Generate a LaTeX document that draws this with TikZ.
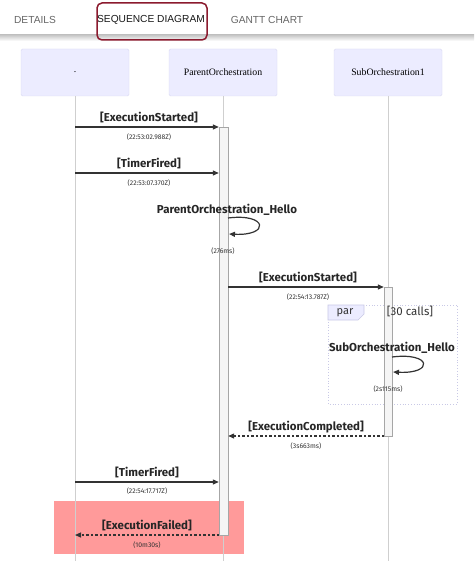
\documentclass[tikz,border=0pt]{standalone}
\usepackage{fontspec}
\setmainfont{Liberation Serif}
\newfontfamily\msgfont{Fira Sans}
\newfontfamily\tabfont{Liberation Sans}
\usetikzlibrary{positioning,arrows.meta}

\definecolor{actorfill}{HTML}{ECECFF}
\definecolor{actorline}{HTML}{DADAF2}
\definecolor{lifegray}{HTML}{CFCFCF}
\definecolor{msgline}{HTML}{333333}
\definecolor{tabred}{HTML}{8B1A2E}
\definecolor{failred}{HTML}{FF9A9A}
\definecolor{parline}{HTML}{C9C9E6}

\begin{document}
\begin{tikzpicture}[x=1pt,y=-1pt]
  \tikzset{Actor/.style={draw=actorline, fill=actorfill, rounded corners=1.5pt,
      minimum width=108pt, minimum height=47pt, font=\fontsize{9.8}{11}\selectfont}}
  \tikzset{Life/.style={draw=lifegray, line width=0.8pt}}
  \tikzset{Bar/.style={draw=gray!70, fill=gray!8, minimum width=9pt, inner sep=0pt}}
  \tikzset{Msg/.style={draw=msgline, line width=1.2pt, -{Triangle[length=6pt,width=5pt]}}}
  \tikzset{Ret/.style={Msg, dashed, dash pattern=on 2.5pt off 2pt}}
  \tikzset{MsgLabel/.style={font=\fontsize{11.5}{13}\msgfont\bfseries, text=black!85, inner sep=0pt}}
  \tikzset{Stamp/.style={font=\fontsize{6.8}{7.5}\msgfont, text=black!80, inner sep=0pt}}
  \tikzset{Tab/.style={font=\fontsize{10.2}{12}\tabfont, text=black!60}}

  \useasboundingbox[fill=white] (0,0) rectangle (474,561);

  % tab bar
  \shade[top color=black!22, bottom color=white] (0,35) rectangle (474,41);
  \node[Tab] (details) at (35,20) {DETAILS};
  \node[Tab, text=black!90] (seq) at (151,20) {SEQUENCE DIAGRAM};
  \node[Tab] (gantt) at (267,20) {GANTT CHART};
  \draw[tabred, line width=1.5pt, rounded corners=5pt] (97,3) rectangle (207,40);

  % failure region
  \fill[failred] (54,501) rectangle (244,554);

  % actors and lifelines
  \node[Actor] (A) at (75,72.5) {.};
  \node[Actor] (P) at (223,72.5) {ParentOrchestration};
  \node[Actor] (S) at (388,72.5) {SubOrchestration1};
  \coordinate (Aend) at (75,561);
  \coordinate (Pend) at (223,561);
  \coordinate (Send) at (388,561);
  \draw[Life] (A) -- (Aend);
  \draw[Life] (P) -- (Pend);
  \draw[Life] (S) -- (Send);

  % par block
  \draw[parline, line width=0.8pt, dotted] (328,305) rectangle (457,404);
  \filldraw[draw=parline, fill=actorfill, line width=0.6pt]
    (328,305) -- (364,305) -- (364,314) -- (358,320) -- (328,320) -- cycle;
  \node[font=\fontsize{11}{13}\msgfont, text=black!80] (par) at (345,313) {par};

  % activations
  \node[Bar, minimum height=408pt] (PB) at (223.5,331) {};
  \node[Bar, minimum height=149pt, minimum width=8pt] (SB) at (388,361.5) {};
  \node[font=\fontsize{11.5}{13}\msgfont, text=black!80] (calls) at (410,311) {[30 calls]};

  % messages
  \coordinate (m1) at (75,127);
  \draw[Msg] (m1) -- (m1 -| PB.west);
  \node[MsgLabel] (l1) at (149,117) {[ExecutionStarted]};
  \node[Stamp] (t1) at (149,137) {(22:53:02.988Z)};

  \coordinate (m2) at (75,173);
  \draw[Msg] (m2) -- (m2 -| PB.west);
  \node[MsgLabel] (l2) at (149,163) {[TimerFired]};
  \node[Stamp] (t2) at (149,183) {(22:53:07.370Z)};

  \node[MsgLabel] (l3) at (227,210) {ParentOrchestration\_Hello};
  \coordinate (m3) at (228,218);
  \coordinate (m3b) at (229,234);
  \draw[Msg] (m3) .. controls (268,213) and (270,236) .. (m3b);
  \node[Stamp] (t3) at (223,251) {(276ms)};

  \coordinate (m4) at (228,287);
  \draw[Msg] (m4) -- (m4 -| SB.west);
  \node[MsgLabel] (l4) at (308,277) {[ExecutionStarted]};
  \node[Stamp] (t4) at (308,297) {(22:54:13.787Z)};

  \node[MsgLabel] (l5) at (392,348) {SubOrchestration\_Hello};
  \coordinate (m5) at (392,357);
  \coordinate (m5b) at (393,372);
  \draw[Msg] (m5) .. controls (432,352) and (434,374) .. (m5b);
  \node[Stamp] (t5) at (388,389) {(2s115ms)};

  \coordinate (m6) at (384,436);
  \draw[Ret] (m6) -- (m6 -| PB.east);
  \node[MsgLabel] (l6) at (306,427) {[ExecutionCompleted]};
  \node[Stamp] (t6) at (306,446) {(3s663ms)};

  \coordinate (m7) at (75,482);
  \draw[Msg] (m7) -- (m7 -| PB.west);
  \node[MsgLabel] (l7) at (147,472) {[TimerFired]};
  \node[Stamp] (t7) at (147,491) {(22:54:17.717Z)};

  \coordinate (m8) at (219,535);
  \draw[Ret] (m8) -- (m8 -| A);
  \node[MsgLabel] (l8) at (147,525) {[ExecutionFailed]};
  \node[Stamp] (t8) at (147,545) {(10m30s)};
\end{tikzpicture}
\end{document}
